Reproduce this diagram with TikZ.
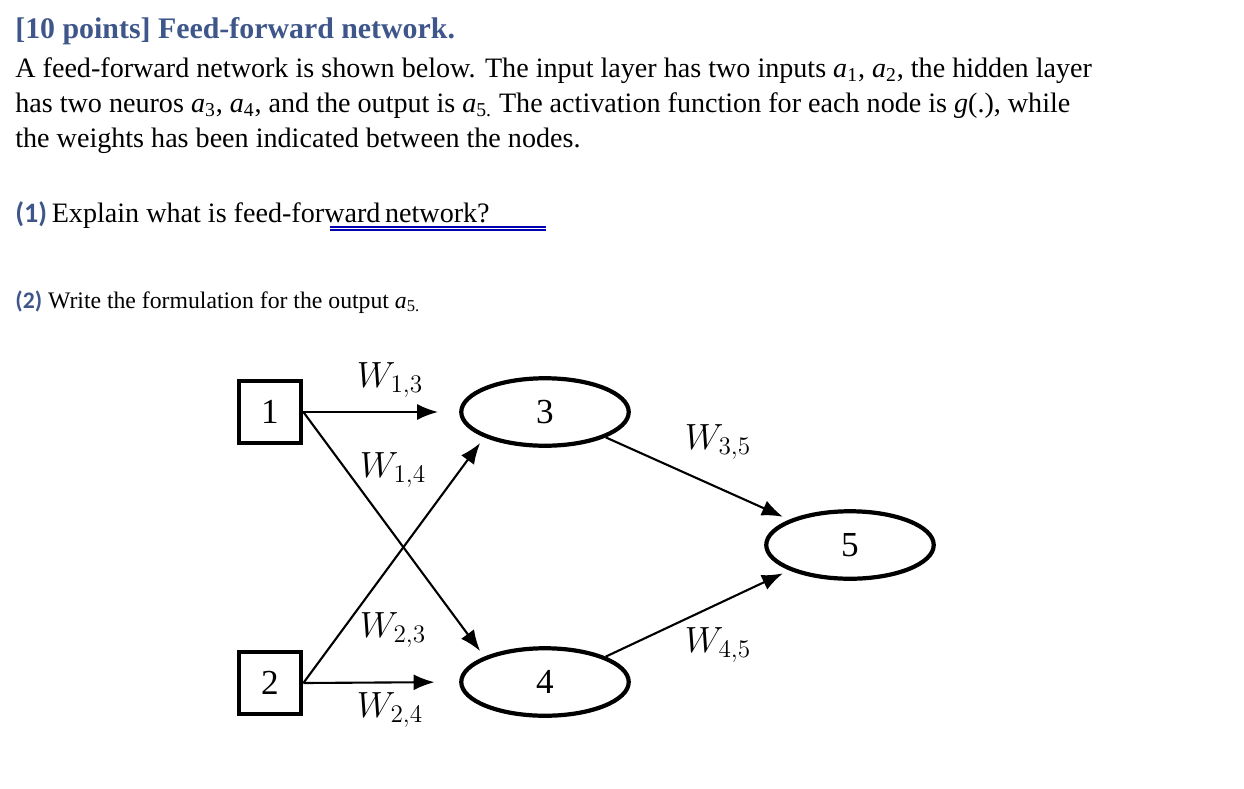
\documentclass[tikz,border=0pt]{standalone}
\usepackage{fontspec}
\setmainfont{Liberation Serif}
\newfontfamily\headfont{Carlito}
\usetikzlibrary{arrows.meta,shapes.geometric}
\definecolor{headblue}{RGB}{62,86,138}
\tikzset{%
  >={Latex[width=3.2mm,length=4.2mm]},
  % Specifications for style of nodes:
       inbox/.style = {rectangle, draw=black, line width=2.4pt,
                       minimum width=1.25cm, minimum height=1.25cm,
                       font=\fontsize{20}{20}\selectfont},
      neuron/.style = {ellipse, draw=black, line width=2.4pt,
                       minimum width=3.35cm, minimum height=1.35cm,
                       font=\fontsize{20}{20}\selectfont},
        wire/.style = {->, line width=1.2pt},
      weight/.style = {font=\fontsize{20}{20}\selectfont},
        line/.style = {anchor=base west, inner sep=0pt,
                       font=\fontsize{16}{16}\selectfont},
}
\begin{document}
\begin{tikzpicture}[x=0.02cm, y=-0.02cm]
  \useasboundingbox (0,0) rectangle (1244,788);
  % Question text
  \node (title) [line, text=headblue, font=\fontsize{17}{17}\selectfont\bfseries] at (15,38) {[10 points] Feed-forward network.};
  \node (l1) [line] at (15,77) {A feed-forward network is shown below. The input layer has two inputs \emph{a}\textsubscript{1}, \emph{a}\textsubscript{2}, the hidden layer};
  \node (l2) [line] at (15,112) {has two neuros \emph{a}\textsubscript{3}, \emph{a}\textsubscript{4}, and the output is \emph{a}\textsubscript{5.} The activation function for each node is \emph{g}(.), while};
  \node (l3) [line] at (15,147) {the weights has been indicated between the nodes.};
  \node (q1) [line] at (15,222) {{\headfont\bfseries\color{headblue}(1)}\,Explain what is feed-forward{\,}network?};
  \node (q2) [line, font=\fontsize{13.5}{13.5}\selectfont] at (15,308) {{\headfont\bfseries\color{headblue}(2)} Write the formulation for the output \emph{a}\textsubscript{5.}};
  \draw[blue!70!black, line width=0.6pt] (330,227) -- (546,227) (330,230) -- (546,230);
  % Network
  \node (in1) [inbox] at (270,412) {1};
  \node (in2) [inbox] at (270,683) {2};
  \node (h3) [neuron] at (545,412) {3};
  \node (h4) [neuron] at (545,682) {4};
  \node (out5) [neuron] at (850,545) {5};

  \draw[wire, shorten >=12pt] (in1.east) -- (h3.west);
  \draw[wire, shorten >=4pt] (in1.east) -- (h4.north west);
  \draw[wire, shorten >=4pt] (in2.east) -- (h3.south west);
  \draw[wire, shorten >=14pt] (in2.east) -- (h4.west);
  \draw[wire, shorten >=4pt] (h3.south east) -- (out5.north west);
  \draw[wire, shorten >=4pt] (h4.north east) -- (out5.south west);

  \node (w13) [weight] at (390,380) {$W_{1,3}$};
  \node (w14) [weight] at (393,470) {$W_{1,4}$};
  \node (w23) [weight] at (393,630) {$W_{2,3}$};
  \node (w24) [weight] at (390,710) {$W_{2,4}$};
  \node (w35) [weight] at (718,442) {$W_{3,5}$};
  \node (w45) [weight] at (718,645) {$W_{4,5}$};
\end{tikzpicture}
\end{document}
